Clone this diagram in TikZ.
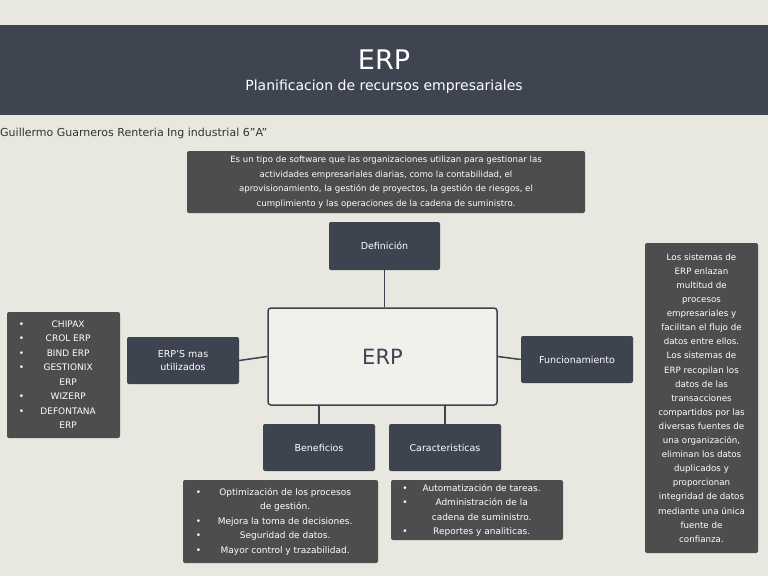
\documentclass[tikz,border=0pt]{standalone}
\usepackage{fontspec}
\setmainfont{DejaVu Sans}
\definecolor{bg}{HTML}{E8E7E0}
\definecolor{hdr}{HTML}{3F4451}
\definecolor{nodec}{HTML}{3E4350}
\definecolor{txtc}{HTML}{4D4D4D}
\newcommand{\blist}[2]{\begin{tabular}{@{}c@{\hspace{4pt}}>{\centering\arraybackslash}p{#1}@{}}#2\end{tabular}}
\usepackage{array}
\begin{document}
\begin{tikzpicture}[x=1pt,y=-1pt,
 dbox/.style={fill=nodec,rounded corners=2pt,text=white,font=\fontsize{9.5}{13}\selectfont,align=center,inner sep=0pt},
 tbox/.style={fill=txtc,rounded corners=2pt,text=white,font=\fontsize{9}{14.5}\selectfont,align=center,inner sep=0pt},
 conn/.style={draw=nodec,line width=1.5pt}]
\useasboundingbox (0,0) rectangle (768,576);
\fill[bg] (0,0) rectangle (768,576);
\fill[hdr] (0,25) rectangle (768,115);
\node[text=white,font=\fontsize{27}{30}\selectfont] (title) at (384,60) {ERP};
\node[text=white,font=\fontsize{14}{17}\selectfont] (sub) at (384,87) {Planificacion de recursos empresariales};
\node[anchor=west,text=black!80,font=\fontsize{11}{13}\selectfont,inner sep=0pt] (auth) at (0,133) {Guillermo Guarneros Renteria Ing industrial 6"A"};
\node[tbox,minimum width=398pt,minimum height=62pt,font=\fontsize{8.6}{14.5}\selectfont] (deftxt) at (386,182) {Es un tipo de software que las organizaciones utilizan para gestionar las\\actividades empresariales diarias, como la contabilidad, el\\aprovisionamiento, la gestión de proyectos, la gestión de riesgos, el\\cumplimiento y las operaciones de la cadena de suministro.};
\node[dbox,minimum width=111pt,minimum height=48pt] (def) at (384.5,246) {Definición};
\node[draw=nodec,line width=1.5pt,fill=bg!60!white,rounded corners=3pt,minimum width=229pt,minimum height=97pt,font=\fontsize{21}{24}\selectfont,text=nodec] (erp) at (382.5,356.5) {ERP};
\node[dbox,minimum width=112pt,minimum height=47pt] (uso) at (183,360.5) {ERP'S mas\\utilizados};
\node[dbox,minimum width=112pt,minimum height=47pt] (fun) at (577,359.5) {Funcionamiento};
\node[dbox,minimum width=112pt,minimum height=47pt] (ben) at (319,447.5) {Beneficios};
\node[dbox,minimum width=112pt,minimum height=47pt] (car) at (445,447.5) {Caracteristicas};
\draw[conn] (def.south) -- (def.south |- erp.north);
\draw[conn] (erp.west) -- (uso.east);
\draw[conn] (erp.east) -- (fun.west);
\draw[conn] (erp.south -| ben.north) -- (ben.north);
\draw[conn] (erp.south -| car.north) -- (car.north);
\node[tbox,minimum width=113pt,minimum height=126pt] (list) at (63.5,375) {\blist{80pt}{%
\textbullet & CHIPAX\\ \textbullet & CROL ERP\\ \textbullet & BIND ERP\\ \textbullet & GESTIONIX\\ & ERP\\ \textbullet & WIZERP\\ \textbullet & DEFONTANA\\ & ERP}};
\node[tbox,minimum width=113pt,minimum height=310pt,font=\fontsize{8.7}{14.1}\selectfont] (funtxt) at (701.5,398) {Los sistemas de\\ERP enlazan\\multitud de\\procesos\\empresariales y\\facilitan el flujo de\\datos entre ellos.\\Los sistemas de\\ERP recopilan los\\datos de las\\transacciones\\compartidos por las\\diversas fuentes de\\una organización,\\eliminan los datos\\duplicados y\\proporcionan\\integridad de datos\\mediante una única\\fuente de\\confianza.};
\node[tbox,minimum width=195pt,minimum height=83pt] (bentxt) at (280.5,521.5) {\blist{160pt}{%
\textbullet & Optimización de los procesos\\ & de gestión.\\ \textbullet & Mejora la toma de decisiones.\\ \textbullet & Seguridad de datos.\\ \textbullet & Mayor control y trazabilidad.}};
\node[tbox,minimum width=172pt,minimum height=60pt] (cartxt) at (477,510) {\blist{140pt}{%
\textbullet & Automatización de tareas.\\ \textbullet & Administración de la\\ & cadena de suministro.\\ \textbullet & Reportes y analiticas.}};
\end{tikzpicture}
\end{document}
